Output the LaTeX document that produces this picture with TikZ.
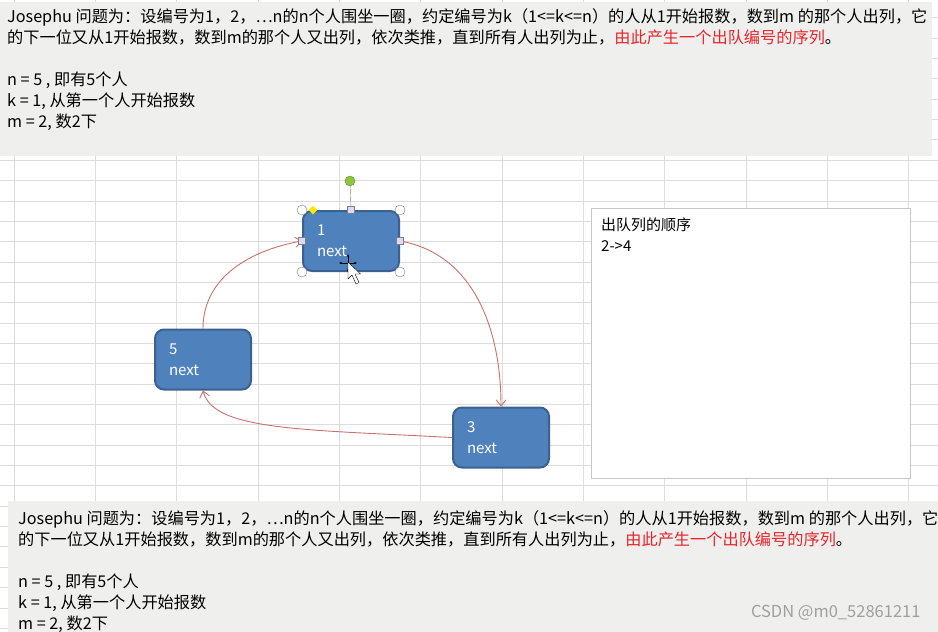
\documentclass[tikz,border=0pt]{standalone}
\usepackage{fontspec}
\setmainfont{Noto Sans CJK SC}
\usetikzlibrary{arrows.meta,shapes.geometric}
\definecolor{blau}{HTML}{4F81BD}
\definecolor{blaurand}{HTML}{3A6190}
\definecolor{pfeilrot}{HTML}{C8736E}
\definecolor{hellgrau}{HTML}{EFF0EE}
\definecolor{gitter}{HTML}{DCDCDC}
\definecolor{textrot}{HTML}{E8242B}
\definecolor{griffgruen}{HTML}{8DC63F}
\newcommand{\aufgabe}{Josephu 问题为：设编号为1，2，…n的n个人围坐一圈，约定编号为k（1<=k<=n）的人从1开始报数，数到m 的那个人出列，它\\
的下一位又从1开始报数，数到m的那个人又出列，依次类推，直到所有人出列为止，\textcolor{textrot}{由此产生一个出队编号的序列}。\\[21pt]
n = 5 , 即有5个人\\
k = 1, 从第一个人开始报数\\
m = 2, 数2下}

\begin{document}
\begin{tikzpicture}[x=1pt,y=-1pt,
  kasten/.style={draw=blaurand,line width=2pt,fill=blau,rounded corners=9pt,
    minimum width=96pt,minimum height=60pt,text=white,align=left,
    text width=68pt,font=\fontsize{15}{21}\selectfont},
  pfeil/.style={draw=pfeilrot,line width=0.9pt,-{Straight Barb[length=6pt,width=10pt]}},
  schrift/.style={anchor=north west,inner sep=0pt,align=left,
    font=\fontsize{16.2}{21}\selectfont},
  griff/.style={circle,draw=gray,fill=white,inner sep=0pt,minimum size=10pt},
  punkt/.style={draw=gray,fill=white!85!blue,inner sep=0pt,minimum size=7pt}]
\useasboundingbox (0,0) rectangle (938,632);
\fill[white] (0,0) rectangle (938,632);
%Gitter
  \foreach \i in {0,...,11}
    \draw[gitter] ({14+81.3*\i},0) -- ({14+81.3*\i},632);
  \foreach \i in {-8,...,23}
    \draw[gitter] (0,{160+20.35*\i}) -- (938,{160+20.35*\i});
%Aufgabe
  \fill[hellgrau] (0,2) rectangle (932,156);
  \node[schrift] (oben) at (7,8.5) {\aufgabe};
  \fill[hellgrau] (8,501) rectangle (938,632);
  \node[schrift] (unten) at (18,510.5) {\aufgabe};
%Kaesten
  \node[kasten] (eins) at (351,241) {1\\next};
  \node[kasten] (fuenf) at (203,359.5) {5\\next};
  \node[kasten] (drei) at (501,437.5) {3\\next};
%Pfeile
  \draw[pfeil] (fuenf.north) to[out=90,in=190] (eins.west);
  \draw[pfeil] (eins.east) to[out=-10,in=90] (drei.north);
  \draw[pfeil] (drei.west) .. controls +(-150,-8) and +(10,40) .. (fuenf.south);
%Auswahl
  \node[griff,fill=griffgruen,draw=griffgruen!70!black] (dreh) at (350,181) {};
  \draw[gray] (dreh) -- (eins.north);
  \foreach \a/\n in {north west/nw,north east/ne,south west/sw,south east/se}
    \node[griff] (g\n) at (eins.\a) {};
  \foreach \a/\n in {north/n,west/w,east/o}
    \node[punkt] (p\n) at (eins.\a) {};
  \node[diamond,fill=yellow!90!orange,inner sep=0pt,minimum size=9pt] (raute) at (313,210) {};
%Zeiger
  \draw[-{Stealth[length=3pt]}] (348,263) -- (339,263);
  \draw[-{Stealth[length=3pt]}] (348,263) -- (357,263);
  \draw[-{Stealth[length=3pt]}] (348,263) -- (348,254);
  \draw[-{Stealth[length=3pt]}] (348,263) -- (348,272);
  \draw[fill=white,line join=round] (348,262) -- (348,279) -- (352,275) -- (356,284)
    -- (359,282.5) -- (355,274) -- (360.5,274) -- cycle;
%Reihenfolge
  \node[draw=gray!45,fill=white,anchor=north west,minimum width=319pt,
    minimum height=270pt] (reihe) at (591,208) {};
  \node[schrift,font=\fontsize{15}{21}\selectfont] (folge) at (601,218)
    {出队列的顺序\\2->4};
%CSDN
  \node[anchor=east,text=gray!75,font=\fontsize{16.5}{18}\selectfont] (csdn) at (924,613)
    {CSDN @m0\_52861211};
\end{tikzpicture}
\end{document}
